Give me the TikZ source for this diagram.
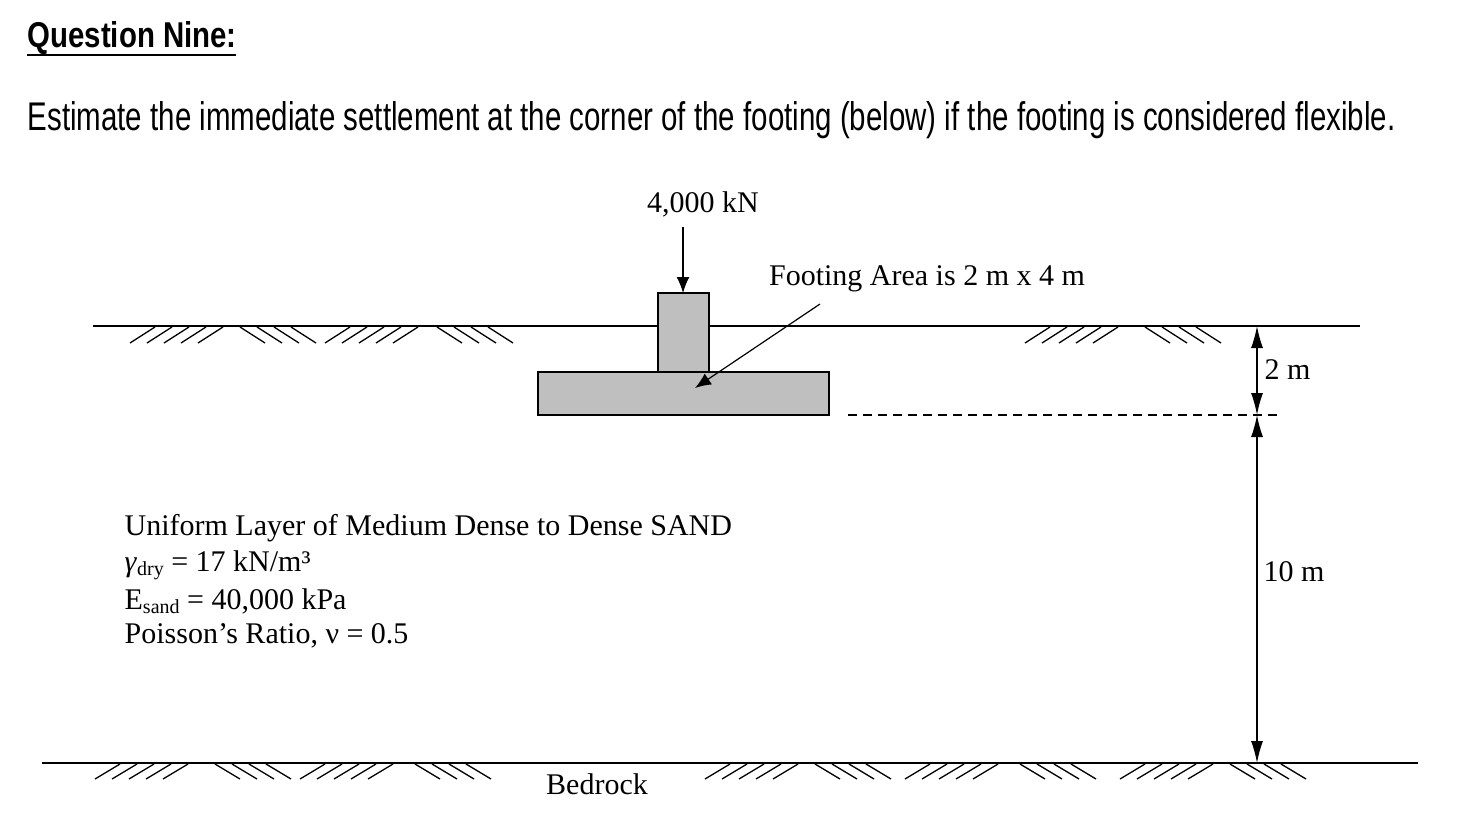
\documentclass[tikz,border=0pt]{standalone}
\usepackage{fontspec}
\setmainfont{Liberation Serif}
\setsansfont{Liberation Sans}
\usetikzlibrary{arrows.meta}
\newcommand{\hatchF}[3]{\foreach \i in {0,...,4} \draw[hatchline] ({#1+17*\i},#2) -- ({#1+17*\i-25},#3);}
\newcommand{\hatchB}[3]{\foreach \i in {0,...,3} \draw[hatchline] ({#1+17*\i},#2) -- ({#1+17*\i+25},#3);}
\begin{document}
\begin{tikzpicture}[x=1pt,y=-1pt,line width=1.3pt,
  body/.style={font=\fontsize{30}{33}\selectfont, inner sep=0pt},
  conc/.style={draw, fill=black!25, line width=1.5pt},
  arr/.style={-{Latex[length=16pt,width=13pt]}},
  dimtip/.style={{Latex[length=22pt,width=12pt]}-{Latex[length=22pt,width=12pt]}},
  hatchline/.style={line width=1.3pt}]
\useasboundingbox (0,0) rectangle (1462,814);
% title
\node[anchor=west, inner sep=0pt] (title) at (27,38) {\resizebox{209pt}{26pt}{\sffamily\bfseries Question Nine:}};
\draw[line width=1.5pt] (27,55) -- (236,55);
\node[anchor=west, inner sep=0pt] (q) at (27,120) {\resizebox{1368pt}{29pt}{\sffamily Estimate the immediate settlement at the corner of the footing (below) if the footing is considered flexible.}};
% ground
\draw (93,326) -- (1360,326);
\draw (42,763) -- (1418,763);
\hatchF{155}{327}{343}\hatchB{240}{327}{343}\hatchF{350}{327}{343}\hatchB{437}{327}{343}
\hatchF{1050}{327}{343}\hatchB{1145}{327}{343}
\hatchF{120}{764}{779}\hatchB{215}{764}{779}\hatchF{325}{764}{779}\hatchB{415}{764}{779}
\hatchF{730}{764}{779}\hatchB{815}{764}{779}\hatchF{930}{764}{779}\hatchB{1020}{764}{779}
\hatchF{1145}{764}{779}\hatchB{1230}{764}{779}
% footing
\draw[conc] (658,293) rectangle (709,372);
\coordinate (coltop) at (683,293);
\draw[conc] (538,372) rectangle (829,415);
\node[body] (load) at (703,204) {4,000 kN};
\coordinate (lstart) at (683,227);
\draw[arr] (lstart) -- (coltop);
\node[body] (area) at (927,279) {Footing Area is 2 m x 4 m};
\coordinate (ls) at (820,304);
\coordinate (le) at (695,388);
\draw[arr, line width=1.2pt] (ls) -- (le);
% dims
\draw[dash pattern=on 9pt off 6pt, line width=1.2pt] (848,415) -- (1280,415);
\coordinate (d0) at (1257,326);
\coordinate (d1) at (1257,415);
\coordinate (d2) at (1257,763);
\draw[dimtip] (d0) -- (d1);
\draw[dimtip] (d1) -- (d2);
\node[body, anchor=west] (m2) at (1264,370) {2 m};
\node[body, anchor=west] (m10) at (1263,572) {10 m};
% text
\node[body, anchor=west] (t1) at (124,528) {Uniform Layer of Medium Dense to Dense SAND};
\node[body, anchor=west] (t2) at (124,565) {\textit{γ}\raisebox{-4pt}{\fontsize{20}{22}\selectfont dry} = 17 kN/m³};
\node[body, anchor=west] (t3) at (124,601) {E\raisebox{-4pt}{\fontsize{20}{22}\selectfont sand} = 40,000 kPa};
\node[body, anchor=west] (t4) at (124,636) {Poisson’s Ratio, ν = 0.5};
\node[body] (rock) at (597,784) {Bedrock};
\end{tikzpicture}
\end{document}
